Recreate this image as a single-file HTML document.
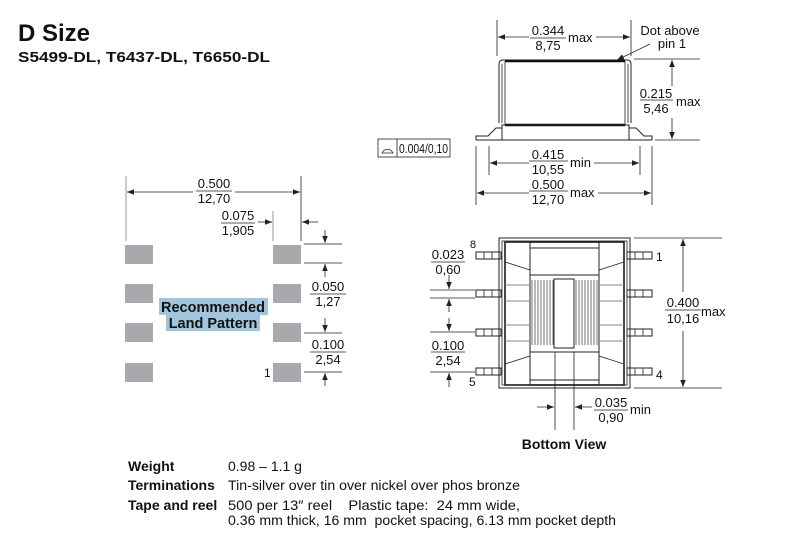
<!DOCTYPE html>
<html><head><meta charset="utf-8"><style>
body{margin:0;background:#fff;width:793px;height:552px;overflow:hidden}
svg{display:block}
text{font-family:"Liberation Sans",sans-serif;fill:#111;white-space:pre}
.s{font-size:13px}
.l{stroke:#222;stroke-width:1;fill:none}
.t{stroke:#222;stroke-width:0.8;fill:none}
</style></head><body>
<svg width="793" height="552" viewBox="0 0 793 552">
<defs><marker id="a" viewBox="0 0 10 10" refX="10" refY="5" markerWidth="9" markerHeight="7" orient="auto-start-reverse" markerUnits="userSpaceOnUse"><path d="M0,1 L10,5 L0,9z" fill="#222"/></marker></defs>
<text x="18" y="41" font-size="24" font-weight="bold">D Size</text>
<text x="18" y="62" font-size="15" font-weight="bold" textLength="252" lengthAdjust="spacingAndGlyphs">S5499-DL, T6437-DL, T6650-DL</text>

<!-- top view -->
<g>
<path class="l" d="M499,123 L499,64 Q499,60 503,60 L627,60 Q631,60 631,64 L631,123"/>
<path class="t" d="M502,123 L502,64 M628,64 L628,123"/>
<line x1="505" y1="61" x2="625" y2="61" stroke="#111" stroke-width="2.5"/>
<line x1="505" y1="125" x2="625" y2="125" stroke="#111" stroke-width="2.5"/>
<line class="t" x1="505" y1="61" x2="505" y2="125"/><line class="t" x1="625" y1="61" x2="625" y2="125"/>
<rect x="502" y="125" width="127" height="15" class="l"/>
<path class="l" d="M476,140 L476,136 L488,136 L496,128 L502,128 M629,128 L636,128 L644,136 L652,136 L652,140 M476,140 L652,140"/>
<line class="t" x1="497" y1="20" x2="497" y2="56"/><line class="t" x1="631" y1="20" x2="631" y2="56"/>
<line class="t" x1="498" y1="37" x2="529" y2="37" marker-start="url(#a)"/><line class="t" x1="596" y1="37" x2="630" y2="37" marker-end="url(#a)"/>
<text x="548" y="35" class="s" text-anchor="middle">0.344</text><line class="t" x1="530" y1="38" x2="566" y2="38"/><text x="548" y="50" class="s" text-anchor="middle">8,75</text><text x="568" y="42" class="s">max</text>
<text x="670" y="35" class="s" text-anchor="middle">Dot above</text><text x="672" y="48" class="s" text-anchor="middle">pin 1</text>
<line class="t" x1="650" y1="44" x2="617" y2="60" marker-end="url(#a)"/>
<line class="t" x1="634" y1="59" x2="700" y2="59"/><line class="t" x1="655" y1="140" x2="700" y2="140"/>
<line class="t" x1="672" y1="60" x2="672" y2="86" marker-start="url(#a)"/><line class="t" x1="672" y1="118" x2="672" y2="139" marker-end="url(#a)"/>
<text x="656" y="98" class="s" text-anchor="middle">0.215</text><line class="t" x1="640" y1="100" x2="673" y2="100"/><text x="656" y="113" class="s" text-anchor="middle">5,46</text><text x="676" y="106" class="s">max</text>
<rect x="378" y="139" width="72" height="18" class="t"/><line class="t" x1="397" y1="139" x2="397" y2="157"/>
<path class="t" d="M382,153 A6,6 0 0 1 393,153 Z"/>
<text x="399" y="153" font-size="13" textLength="49" lengthAdjust="spacingAndGlyphs">0.004/0,10</text>
<line class="t" x1="489" y1="146" x2="489" y2="175"/><line class="t" x1="640" y1="146" x2="640" y2="175"/>
<line class="t" x1="490" y1="163" x2="529" y2="163" marker-start="url(#a)"/><line class="t" x1="594" y1="163" x2="639" y2="163" marker-end="url(#a)"/>
<text x="548" y="159" class="s" text-anchor="middle">0.415</text><line class="t" x1="529" y1="161" x2="568" y2="161"/><text x="548" y="174" class="s" text-anchor="middle">10,55</text><text x="570" y="167" class="s">min</text>
<line class="t" x1="476" y1="146" x2="476" y2="205"/><line class="t" x1="652" y1="146" x2="652" y2="205"/>
<line class="t" x1="477" y1="193" x2="529" y2="193" marker-start="url(#a)"/><line class="t" x1="598" y1="193" x2="651" y2="193" marker-end="url(#a)"/>
<text x="548" y="189" class="s" text-anchor="middle">0.500</text><line class="t" x1="529" y1="191" x2="568" y2="191"/><text x="548" y="204" class="s" text-anchor="middle">12,70</text><text x="570" y="197" class="s">max</text>
</g>

<!-- bottom view -->
<g>
<rect x="499" y="238" width="131" height="150" class="l"/>
<rect x="502" y="241" width="125" height="144" class="t"/>
<rect x="505" y="242" width="119" height="143" fill="none" stroke="#111" stroke-width="1.6"/>
<rect x="505" y="242" width="25" height="143" class="l"/><rect x="599" y="242" width="25" height="143" class="l"/>
<line class="l" x1="530" y1="248" x2="599" y2="248"/><line class="l" x1="530" y1="275" x2="599" y2="275"/>
<line class="l" x1="530" y1="352" x2="599" y2="352"/><line class="l" x1="530" y1="380" x2="599" y2="380"/>
<path class="t" d="M505,262 L530,270 M624,262 L599,270 M505,364 L530,356 M624,364 L599,356"/>
<path d="M505,285 H530 M505,301 H530 M505,325 H530 M505,341 H530 M599,285 H624 M599,301 H624 M599,325 H624 M599,341 H624" stroke="#888" stroke-width="1"/>
<g stroke="#111" stroke-width="0.6">
<path d="M532,280V345M535,280V345M538,280V345M541,280V345M544,280V345M547,280V345M550,280V345M553,280V345M576,280V345M579,280V345M582,280V345M585,280V345M588,280V345M591,280V345M594,280V345M597,280V345"/>
</g>
<rect x="554" y="279" width="20" height="69" fill="#fff" class="l"/>
<g class="l" fill="#fff">
<rect x="476" y="252" width="25" height="7"/><rect x="476" y="290" width="25" height="7"/><rect x="476" y="329" width="25" height="7"/><rect x="476" y="368" width="25" height="7"/>
<rect x="627" y="252" width="25" height="7"/><rect x="627" y="290" width="25" height="7"/><rect x="627" y="329" width="25" height="7"/><rect x="627" y="368" width="25" height="7"/>
</g>
<path class="t" d="M484,252V259M492,252V259M484,290V297M492,290V297M484,329V336M492,329V336M484,368V375M492,368V375M635,252V259M643,252V259M635,290V297M643,290V297M635,329V336M643,329V336M635,368V375M643,368V375"/>
<text x="470" y="248" font-size="11">8</text><text x="656" y="261" font-size="12">1</text>
<text x="469" y="386" font-size="12">5</text><text x="656" y="379" font-size="12">4</text>
<line class="t" x1="634" y1="238" x2="722" y2="238"/><line class="t" x1="634" y1="388" x2="722" y2="388"/>
<line class="t" x1="683" y1="239" x2="683" y2="292" marker-start="url(#a)"/><line class="t" x1="683" y1="331" x2="683" y2="387" marker-end="url(#a)"/>
<text x="683" y="307" class="s" text-anchor="middle">0.400</text><line class="t" x1="665" y1="310" x2="701" y2="310"/><text x="683" y="323" class="s" text-anchor="middle">10,16</text><text x="701" y="316" class="s">max</text>
<path class="t" d="M430,290H475M430,298H475M430,332H475M430,372H475"/>
<line class="t" x1="449" y1="275" x2="449" y2="289" marker-end="url(#a)"/>
<line class="t" x1="449" y1="312" x2="449" y2="299" marker-end="url(#a)"/>
<line class="t" x1="449" y1="318" x2="449" y2="331" marker-end="url(#a)"/>
<line class="t" x1="449" y1="387" x2="449" y2="373" marker-end="url(#a)"/>
<text x="448" y="259" class="s" text-anchor="middle">0.023</text><line class="t" x1="431" y1="262" x2="465" y2="262"/><text x="448" y="274" class="s" text-anchor="middle">0,60</text>
<text x="448" y="350" class="s" text-anchor="middle">0.100</text><line class="t" x1="431" y1="352" x2="465" y2="352"/><text x="448" y="365" class="s" text-anchor="middle">2,54</text>
<line class="t" x1="555" y1="352" x2="555" y2="430"/><line class="t" x1="574" y1="352" x2="574" y2="430"/>
<line class="t" x1="537" y1="407" x2="554" y2="407" marker-end="url(#a)"/><line class="t" x1="592" y1="407" x2="575" y2="407" marker-end="url(#a)"/>
<text x="611" y="407" class="s" text-anchor="middle">0.035</text><line class="t" x1="594" y1="410" x2="628" y2="410"/><text x="611" y="422" class="s" text-anchor="middle">0,90</text><text x="630" y="414" class="s">min</text>
<text x="564" y="449" font-size="14" font-weight="bold" text-anchor="middle">Bottom View</text>
</g>

<!-- land pattern -->
<g>
<g fill="#a7a9ac">
<rect x="125" y="245" width="28" height="19"/><rect x="125" y="284" width="28" height="19"/><rect x="125" y="323" width="28" height="19"/><rect x="125" y="363" width="28" height="19"/>
<rect x="273" y="245" width="28" height="19"/><rect x="273" y="284" width="28" height="19"/><rect x="273" y="323" width="28" height="19"/><rect x="273" y="363" width="28" height="19"/>
</g>
<line x1="126" y1="176" x2="126" y2="241" stroke="#999"/><line class="t" x1="301" y1="176" x2="301" y2="241"/>
<line x1="273" y1="211" x2="273" y2="241" stroke="#999"/>
<line class="t" x1="127" y1="192" x2="193" y2="192" marker-start="url(#a)"/><line class="t" x1="235" y1="192" x2="300" y2="192" marker-end="url(#a)"/>
<text x="214" y="188" class="s" text-anchor="middle">0.500</text><line class="t" x1="196" y1="191" x2="232" y2="191"/><text x="214" y="203" class="s" text-anchor="middle">12,70</text>
<line class="t" x1="258" y1="222" x2="272" y2="222" marker-end="url(#a)"/><line class="t" x1="318" y1="222" x2="302" y2="222" marker-end="url(#a)"/>
<text x="238" y="220" class="s" text-anchor="middle">0.075</text><line class="t" x1="221" y1="223" x2="255" y2="223"/><text x="238" y="235" class="s" text-anchor="middle">1,905</text>
<path class="t" d="M304,244H342M304,263H342M304,333H342M304,372H342"/>
<line class="t" x1="325" y1="230" x2="325" y2="243" marker-end="url(#a)"/>
<line class="t" x1="325" y1="277" x2="325" y2="264" marker-end="url(#a)"/>
<line class="t" x1="325" y1="318" x2="325" y2="332" marker-end="url(#a)"/>
<line class="t" x1="325" y1="386" x2="325" y2="373" marker-end="url(#a)"/>
<text x="328" y="291" class="s" text-anchor="middle">0.050</text><line class="t" x1="310" y1="294" x2="346" y2="294"/><text x="328" y="306" class="s" text-anchor="middle">1,27</text>
<text x="328" y="349" class="s" text-anchor="middle">0.100</text><line class="t" x1="310" y1="352" x2="346" y2="352"/><text x="328" y="364" class="s" text-anchor="middle">2,54</text>
<text x="264" y="377" font-size="12">1</text>
<rect x="159" y="298" width="109" height="17" fill="#a3c4dd"/><rect x="166" y="314" width="94" height="17" fill="#a3c4dd"/>
<text x="213" y="312" font-size="14.5" font-weight="bold" text-anchor="middle">Recommended</text>
<text x="213" y="328" font-size="14.5" font-weight="bold" text-anchor="middle">Land Pattern</text>
</g>

<g font-size="14">
<text x="128" y="471" font-weight="bold">Weight</text><text x="228" y="471">0.98 – 1.1 g</text>
<text x="128" y="490" font-weight="bold">Terminations</text><text x="228" y="490" textLength="292" lengthAdjust="spacingAndGlyphs">Tin-silver over tin over nickel over phos bronze</text>
<text x="128" y="510" font-weight="bold">Tape and reel</text><text x="228" y="510" textLength="292" lengthAdjust="spacingAndGlyphs">500 per 13″ reel    Plastic tape:  24 mm wide,</text>
<text x="228" y="525" textLength="388" lengthAdjust="spacingAndGlyphs">0.36 mm thick, 16 mm  pocket spacing, 6.13 mm pocket depth</text>
</g>
</svg>
</body></html>
